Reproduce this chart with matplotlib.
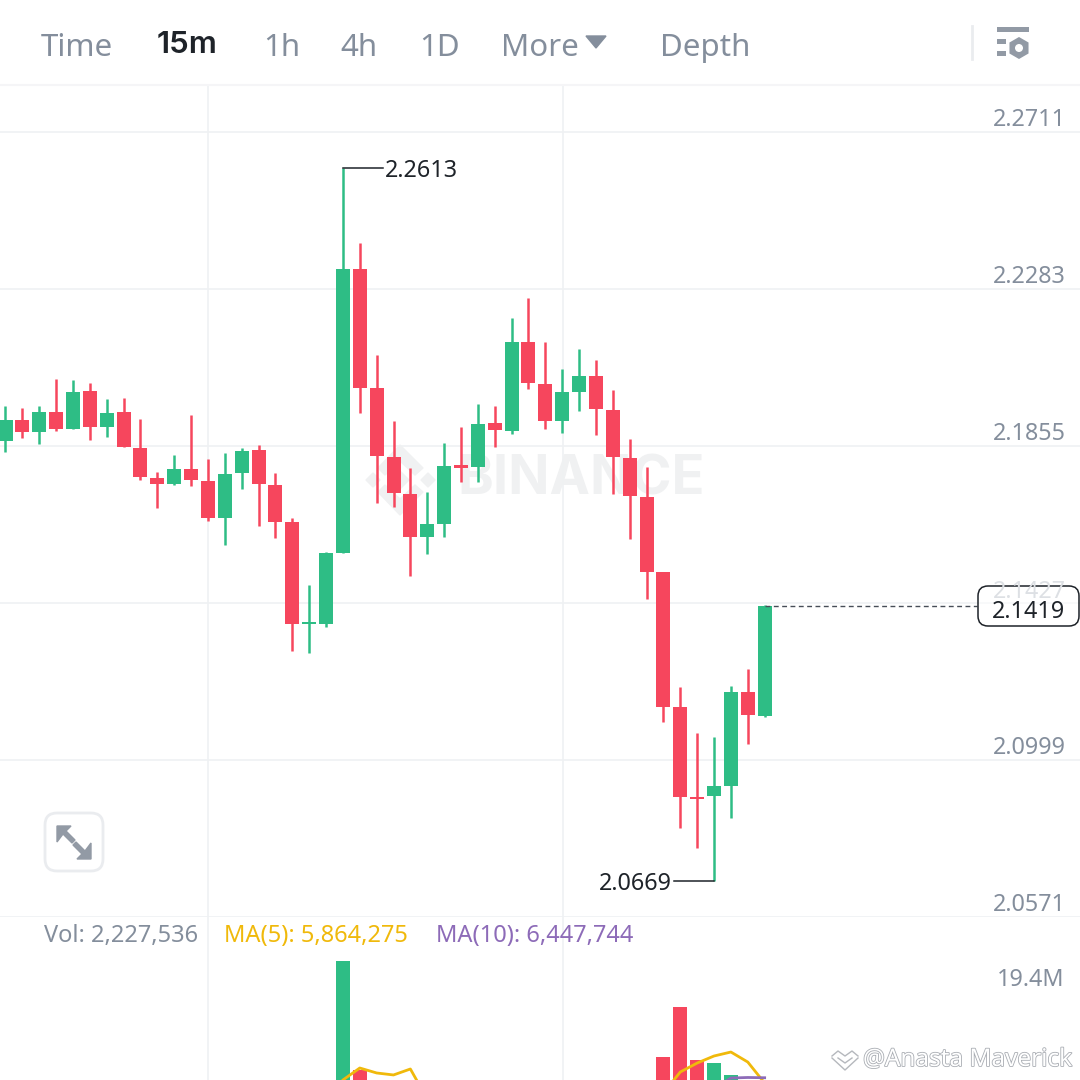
import matplotlib
matplotlib.use("Agg")
import matplotlib.pyplot as plt
import matplotlib.patheffects as pe
from matplotlib.patches import FancyBboxPatch, Polygon, RegularPolygon, Circle, Rectangle
import numpy as np

plt.rcParams['font.family'] = ['Noto Sans', 'DejaVu Sans']

GREEN = "#2EBD85"
RED = "#F6465D"
GRID = "#EFF1F3"
GRAY = "#848E9C"
DARK = "#1E2329"
YELLOW = "#F0B90B"
PURPLE = "#8D6BB8"
MARK = "#F0F1F2"

# candles, oldest first
opens = [2.1869, 2.1926, 2.1893, 2.1948, 2.1901, 2.2005, 2.1907, 2.1948, 2.1850, 2.1768,
         2.1751, 2.1792, 2.1760, 2.1659, 2.1781, 2.1844, 2.1749, 2.1648, 2.1370, 2.1370,
         2.1563, 2.2337, 2.2013, 2.1825, 2.1724, 2.1607, 2.1642, 2.1803, 2.1798, 2.1918,
         2.1896, 2.2139, 2.2024, 2.1923, 2.2002, 2.2046, 2.1953, 2.1822, 2.1716, 2.1511,
         2.1143, 2.0898, 2.0901, 2.0928, 2.1184, 2.1119]
closes = [2.1926, 2.1893, 2.1948, 2.1901, 2.2002, 2.1907, 2.1945, 2.1852, 2.1771, 2.1751,
          2.1792, 2.1762, 2.1659, 2.1779, 2.1841, 2.1751, 2.1648, 2.1370, 2.1375, 2.1563,
          2.2337, 2.2013, 2.1828, 2.1727, 2.1607, 2.1642, 2.1800, 2.1795, 2.1915, 2.1899,
          2.2139, 2.2027, 2.1923, 2.2002, 2.2046, 2.1956, 2.1825, 2.1719, 2.1511, 2.1143,
          2.0898, 2.0893, 2.0928, 2.1184, 2.1122, 2.1419]
highs = [2.1964, 2.1959, 2.1964, 2.2038, 2.2035, 2.2027, 2.1983, 2.1986, 2.1929, 2.1784,
         2.1830, 2.1940, 2.1820, 2.1836, 2.1850, 2.1858, 2.1781, 2.1659, 2.1476, 2.1566,
         2.2613, 2.2408, 2.2103, 2.1923, 2.1795, 2.1730, 2.1863, 2.1907, 2.1969, 2.1964,
         2.2204, 2.2258, 2.2139, 2.2065, 2.2119, 2.2089, 2.2008, 2.1874, 2.1798, 2.1511,
         2.1198, 2.1073, 2.1062, 2.1201, 2.1247, 2.1422]
lows = [2.1839, 2.1877, 2.1860, 2.1896, 2.1901, 2.1871, 2.1880, 2.1852, 2.1762, 2.1686,
        2.1749, 2.1746, 2.1651, 2.1585, 2.1738, 2.1637, 2.1604, 2.1296, 2.1291, 2.1362,
        2.1563, 2.1945, 2.1700, 2.1689, 2.1501, 2.1561, 2.1607, 2.1757, 2.1757, 2.1852,
        2.1888, 2.2010, 2.1901, 2.1890, 2.1950, 2.1885, 2.1724, 2.1601, 2.1438, 2.1103,
        2.0814, 2.0759, 2.0669, 2.0841, 2.1043, 2.1116]

price_ticks = [2.2711, 2.2283, 2.1855, 2.1427, 2.0999, 2.0571]
last_price = 2.1419
high_label = 2.2613
low_label = 2.0669

# volume pane, only what shows above the crop, in millions
vol_idx = [20, 21, 39, 40, 41, 42, 43, 44, 45]
vol_values = [19.38, 7.31, 8.75, 14.29, 8.42, 8.08, 6.76, 6.0, 2.23]
ma5_left_idx = [19, 20, 21, 22, 23, 24, 25]
ma5_left = [4.0, 6.2, 7.53, 6.98, 6.76, 7.42, 4.1]
ma5_right_idx = [39, 40, 41, 42, 43, 44, 45]
ma5_right = [4.76, 7.09, 8.08, 8.86, 9.3, 8.19, 5.86]
ma10_idx = [42, 43, 44, 45]
ma10 = [5.2, 6.42, 6.48, 6.45]

W = 1080
n = len(opens)
idx = np.arange(n)
step = 16.87
x0 = 5.5
xlim = (-x0 / step, (W - x0) / step)

fig = plt.figure(figsize=(10.8, 10.8), dpi=100, facecolor="white")

# background layer: watermark sits under the candles
bg = fig.add_axes([0, 0, 1, 1], zorder=0)
bg.set_xlim(0, W)
bg.set_ylim(W, 0)
bg.axis("off")
bg.text(581, 480, "BINANCE", color=MARK, fontsize=39, fontweight="bold", family="Inter", ha="center", va="center")
for cx, r in [(373, 7), (400, 9), (428, 7)]:
    bg.add_patch(Polygon([(cx, 480 - r), (cx + r, 480), (cx, 480 + r), (cx - r, 480)], color=MARK))
bg.add_patch(Polygon([(400, 445), (423, 468), (415, 475), (400, 461), (385, 475), (378, 468)], color=MARK))
bg.add_patch(Polygon([(400, 515), (423, 492), (415, 485), (400, 499), (385, 485), (378, 492)], color=MARK))

# price pane, y 86..917 px
per_px = (price_ticks[0] - price_ticks[1]) / 157
ax = fig.add_axes([0, (W - 917) / W, 1, (917 - 86) / W], zorder=1)
ax.patch.set_alpha(0)
ax.set_xlim(*xlim)
ax.set_ylim(price_ticks[-1], price_ticks[0] + 46 * per_px)
for s in ax.spines.values():
    s.set_visible(False)
ax.tick_params(left=False, bottom=False, labelleft=False, labelbottom=False)
for p in price_ticks:
    ax.axhline(p, color=GRID, lw=1.2, zorder=1)
grid_x = [12, 33.05]
for gx in grid_x:
    ax.axvline(gx, color=GRID, lw=1.2, zorder=1)

colors = [GREEN if c >= o else RED for o, c in zip(opens, closes)]
ax.vlines(idx, lows, highs, colors=colors, lw=1.8, zorder=3)
bottoms = np.minimum(opens, closes)
heights = np.maximum(np.abs(np.array(closes) - np.array(opens)), 0.0006)
ax.bar(idx, heights, bottom=bottoms, width=0.83, color=colors, lw=0, zorder=4)

# high / low markers
ax.plot([20, 22.4], [high_label, high_label], color=DARK, lw=1.1, zorder=5)
ax.text(22.5, high_label - 3.5 * per_px, "2.2613", color=DARK, fontsize=16.8, va="center", ha="left", zorder=5)
ax.plot([39.6, 42], [low_label, low_label], color=DARK, lw=1.1, zorder=5)
ax.text(39.5, low_label - 3 * per_px, "2.0669", color=DARK, fontsize=16.8, va="center", ha="right", zorder=5)

# last price
ax.plot([45, (977 - x0) / step], [last_price, last_price], color="#474D57", lw=1, ls=(0, (3.5, 2.5)), zorder=5)

# volume pane, goes on below the crop
va = fig.add_axes([0, 0, 1, (W - 917) / W], zorder=1)
va.patch.set_alpha(0)
va.set_xlim(*xlim)
va.set_ylim((1136 - 1080) / 9.03, (1136 - 917) / 9.03)
for s in va.spines.values():
    s.set_visible(False)
va.tick_params(left=False, bottom=False, labelleft=False, labelbottom=False)
for gx in grid_x:
    va.axvline(gx, color=GRID, lw=1.2, zorder=1)
va.bar(vol_idx, vol_values, width=0.83, color=[colors[i] for i in vol_idx], lw=0, zorder=3)
va.plot(ma5_left_idx, ma5_left, color=YELLOW, lw=2, zorder=4)
va.plot(ma5_right_idx, ma5_right, color=YELLOW, lw=2, zorder=4)
va.plot(ma10_idx, ma10, color=PURPLE, lw=2, zorder=5)

# chrome layer in pixel coords
ui = fig.add_axes([0, 0, 1, 1], zorder=5)
ui.patch.set_alpha(0)
ui.set_xlim(0, W)
ui.set_ylim(W, 0)
ui.axis("off")

ui.plot([0, W], [85, 85], color="#F5F5F7", lw=1.5)
tabs = ["Time", "15m", "1h", "4h", "1D", "More", "Depth"]
tab_x = [41, 157, 263, 340, 419, 501, 660]
for t, tx in zip(tabs, tab_x):
    if t == "15m":
        ui.text(tx, 45, t, fontsize=22.5, ha="left", va="center", color=DARK, fontweight="semibold", family="Inter")
    else:
        ui.text(tx, 48, t, fontsize=22.5, ha="left", va="center", color=GRAY)
ui.add_patch(Polygon([(586, 36), (606, 36), (596, 48)], color=GRAY))
ui.plot([972, 972], [26, 59], color="#EAECEF", lw=2)

ui.add_patch(Rectangle((997, 27), 32, 5, color="#929AA5", lw=0))
ui.add_patch(Rectangle((997, 39), 9, 5, color="#929AA5", lw=0))
ui.add_patch(Rectangle((997, 51), 9, 5, color="#929AA5", lw=0))
ui.add_patch(RegularPolygon((1019, 48), 6, radius=11, color="#929AA5", lw=0))
ui.add_patch(Circle((1019, 48), 4, color="white", lw=0))

# expand button
ui.add_patch(FancyBboxPatch((53, 821), 42, 42, boxstyle="round,pad=8,rounding_size=12",
                            fc="white", ec="#EAECEF", lw=2))
ui.add_patch(Polygon([(57, 826), (71, 826), (66, 831), (75, 840), (72, 843), (63, 834), (57, 842)], color="#929AA5"))
ui.add_patch(Polygon([(91, 859), (77, 859), (82, 854), (73, 845), (76, 842), (85, 851), (91, 843)], color="#929AA5"))

# price axis labels
tick_y = [120, 277, 434, 592, 748, 905]
for p, ty in zip(price_ticks, tick_y):
    if p == 2.1427:
        ui.text(1065.5, ty, f"{p:.4f}", fontsize=16.8, color="#DDE0E4", ha="right", va="center")
    else:
        ui.text(1065.5, ty, f"{p:.4f}", fontsize=16.8, color=GRAY, ha="right", va="center")
ui.add_patch(FancyBboxPatch((985, 593), 87, 26, boxstyle="round,pad=7,rounding_size=10",
                            fc=(1, 1, 1, 0.55), ec=DARK, lw=1.1))
ui.text(1065.5, 612, "2.1419", fontsize=16.8, color=DARK, ha="right", va="center")

# volume legend
ui.text(44, 936, "Vol: 2,227,536", fontsize=17, color=GRAY, ha="left", va="center")
ui.text(224, 936, "MA(5): 5,864,275", fontsize=17, color=YELLOW, ha="left", va="center")
ui.text(436, 936, "MA(10): 6,447,744", fontsize=17, color=PURPLE, ha="left", va="center")
ui.text(1064, 980, "19.4M", fontsize=16.8, color=GRAY, ha="right", va="center")

# square share watermark
outline = [pe.withStroke(linewidth=1.2, foreground="#A9ADB3")]
ui.text(863, 1060, "@Anasta Maverick", fontsize=17.5, color="white", ha="left", va="center", path_effects=outline)
ui.plot([832, 838, 845, 852, 858], [1056, 1051, 1056, 1051, 1056], color="#B5B8BD", lw=1)
ui.plot([832, 845, 858], [1058, 1070, 1058], color="#B5B8BD", lw=1)
ui.plot([838, 845, 852], [1058, 1063, 1058], color="#B5B8BD", lw=1)

fig.savefig("out.png", dpi=100)
